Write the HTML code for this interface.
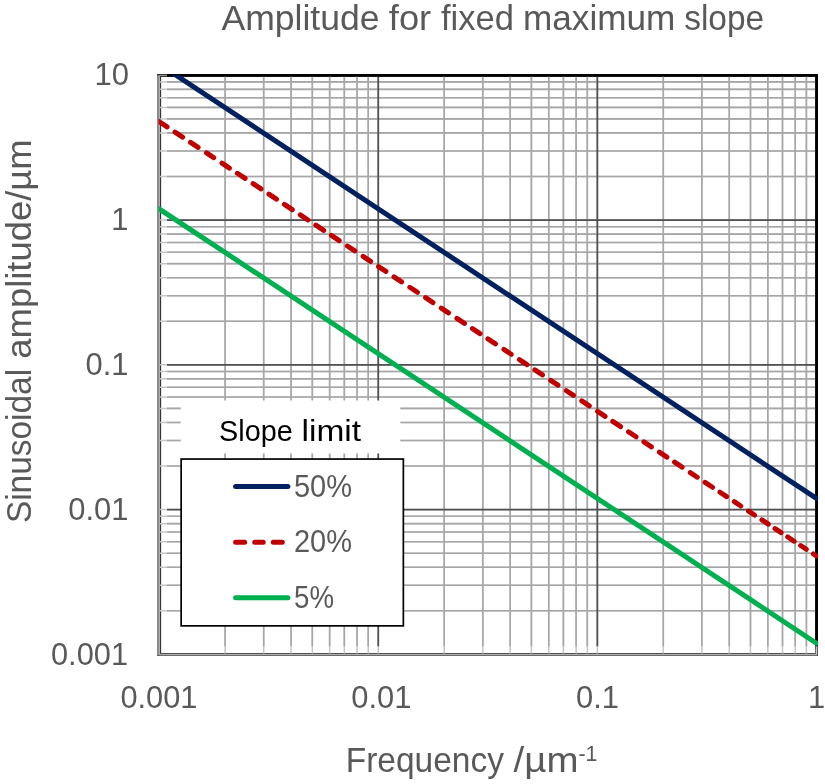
<!DOCTYPE html>
<html><head><meta charset="utf-8"><title>Amplitude for fixed maximum slope</title>
<style>
html,body{margin:0;padding:0;background:#fff;}
body{width:825px;height:784px;overflow:hidden;}
svg{display:block;font-family:'Liberation Sans', Arial, sans-serif;font-kerning:none;font-variant-ligatures:none;}
</style></head><body>
<svg width="825" height="784" viewBox="0 0 825 784">
<rect width="825" height="784" fill="#fff"/>
<g>
<rect x="157" y="74.1" width="4.1" height="581.8" fill="#c6c6c6"/>
<rect x="157" y="74.1" width="661" height="2.8" fill="#c6c6c6"/>
<rect x="815.1" y="74.1" width="2.9" height="581.8" fill="#c6c6c6"/>
<rect x="157" y="653" width="661" height="2.85" fill="#c6c6c6"/>
<rect x="157" y="74.1" width="2.1" height="581.7" fill="#8a8a8a"/>
<rect x="157" y="74.1" width="661" height="1.25" fill="#262626"/>
<rect x="817" y="74.1" width="1.0" height="581.7" fill="#444"/>
<rect x="157" y="654.8" width="661" height="1.05" fill="#5a5a5a"/>
<rect x="159.9" y="76.0" width="1.2" height="577.9" fill="#333"/>
<rect x="159.9" y="76.0" width="656.1" height="0.95" fill="#333"/>
<rect x="815.1" y="76.0" width="0.95" height="577.9" fill="#333"/>
<rect x="159.9" y="653.0" width="656.1" height="0.95" fill="#4a4a4a"/>
</g>
<path d="M225.12 76V653.5M263.7 76V653.5M291.08 76V653.5M312.31 76V653.5M329.66 76V653.5M344.32 76V653.5M357.03 76V653.5M368.23 76V653.5M444.21 76V653.5M482.79 76V653.5M510.17 76V653.5M531.4 76V653.5M548.75 76V653.5M563.41 76V653.5M576.12 76V653.5M587.32 76V653.5M663.3 76V653.5M701.88 76V653.5M729.26 76V653.5M750.49 76V653.5M767.84 76V653.5M782.5 76V653.5M795.21 76V653.5M806.41 76V653.5M378.26 76V653.5M597.35 76V653.5M816.44 76V653.5M160 610.8H816.5M160 585.31H816.5M160 567.22H816.5M160 553.19H816.5M160 541.73H816.5M160 532.04H816.5M160 523.64H816.5M160 516.23H816.5M160 466.03H816.5M160 440.54H816.5M160 422.45H816.5M160 408.42H816.5M160 396.96H816.5M160 387.27H816.5M160 378.87H816.5M160 371.46H816.5M160 321.26H816.5M160 295.77H816.5M160 277.68H816.5M160 263.65H816.5M160 252.19H816.5M160 242.5H816.5M160 234.1H816.5M160 226.69H816.5M160 176.49H816.5M160 151H816.5M160 132.91H816.5M160 118.88H816.5M160 107.42H816.5M160 97.73H816.5M160 89.33H816.5M160 81.92H816.5M160 509.61H816.5M160 364.84H816.5M160 220.07H816.5" stroke="#c6c6c6" stroke-width="1.5" fill="none"/>
<path d="M225.12 75V646.2M263.7 75V646.2M291.08 75V646.2M312.31 75V646.2M329.66 75V646.2M344.32 75V646.2M357.03 75V646.2M368.23 75V646.2M444.21 75V646.2M482.79 75V646.2M510.17 75V646.2M531.4 75V646.2M548.75 75V646.2M563.41 75V646.2M576.12 75V646.2M587.32 75V646.2M663.3 75V646.2M701.88 75V646.2M729.26 75V646.2M750.49 75V646.2M767.84 75V646.2M782.5 75V646.2M795.21 75V646.2M806.41 75V646.2M167 610.8H816.5M167 585.31H816.5M167 567.22H816.5M167 553.19H816.5M167 541.73H816.5M167 532.04H816.5M167 523.64H816.5M167 516.23H816.5M167 466.03H816.5M167 440.54H816.5M167 422.45H816.5M167 408.42H816.5M167 396.96H816.5M167 387.27H816.5M167 378.87H816.5M167 371.46H816.5M167 321.26H816.5M167 295.77H816.5M167 277.68H816.5M167 263.65H816.5M167 252.19H816.5M167 242.5H816.5M167 234.1H816.5M167 226.69H816.5M167 176.49H816.5M167 151H816.5M167 132.91H816.5M167 118.88H816.5M167 107.42H816.5M167 97.73H816.5M167 89.33H816.5M167 81.92H816.5" stroke="#a6a6a6" stroke-width="1.6" fill="none"/>
<path d="M378.26 75V646.2M597.35 75V646.2M816.44 75V646.2M167 509.61H816.5M167 364.84H816.5M167 220.07H816.5" stroke="#4f4f4f" stroke-width="1.75" fill="none"/>
<rect x="167" y="74" width="651" height="2.7" fill="#000"/>
<rect x="815.2" y="74" width="2.8" height="572.2" fill="#000"/>
<defs><clipPath id="pc"><rect x="158.7" y="75.3" width="659.4" height="578.5"/></clipPath></defs>
<g clip-path="url(#pc)" fill="none" stroke-width="5" stroke-linecap="round">
<path d="M159.17 208.91L816.44 643.22" stroke="#00b050"/>
<path d="M158.17 120.98L167.1 126.89M175 132.11L182.6 137.13M190.5 142.35L198.1 147.37M206.5 152.92L213.7 157.68M222 163.16L229.4 168.05M237.3 173.27L245.1 178.43M253.1 183.71L261 188.93M268.9 194.15L276.5 199.17M284.4 204.39L292.3 209.61M300.3 214.9L308 219.99M315.9 225.21L323.7 230.36M331.4 235.45L339.2 240.61M347.4 246.02L354.8 250.91M363.1 256.4L370.6 261.35M378.5 266.57L385.9 271.46M394 276.82L401.6 281.84M409.8 287.26L417.4 292.28M425.6 297.7L433 302.59M441.25 308.04L448.5 312.83M456.9 318.38L464.5 323.4M472.4 328.62L480 333.64M487.9 338.86L495.5 343.89M503.9 349.44L511.2 354.26M519.4 359.68L527 364.7M534.9 369.92L542.5 374.94M550.7 380.36L558 385.18M566.4 390.73L573.55 395.46M581.8 400.91L589.3 405.87M597.6 411.35L605.1 416.31M612.75 421.36L620.6 426.55M628.55 431.8L636.05 436.76M643.9 441.94L651.4 446.9M659.4 452.19L666.9 457.14M674.55 462.2L682.1 467.19M690.25 472.57L697.3 477.23M705.05 482.35L712.5 487.27M720 492.23L726.6 496.59M734.3 501.68L740.8 505.97M748.5 511.06L754.5 515.03M761.95 519.95L768.35 524.18M775 528.57L781.1 532.6M787.75 537L794.15 541.23M800.65 545.52L806.3 549.26M813.45 553.98L816.44 555.96" stroke="#c00000"/>
<path d="M159.17 64.09L816.44 498.4" stroke="#002060"/>
</g>
<rect x="180.8" y="400.5" width="219.5" height="53" fill="#fff"/>
<rect x="181.15" y="459.05" width="222.2" height="166.8" fill="#fff" stroke="#000" stroke-width="1.7"/>
<g stroke-width="5" stroke-linecap="round" fill="none">
<path d="M235.6 486.45H287.9" stroke="#002060"/>
<path d="M235.6 542.3H244.6M254.7 542.3H263.2M273.3 542.3H282.3" stroke="#c00000"/>
<path d="M235.6 597.8H287.9" stroke="#00b050"/>
</g>
<text x="221.43" y="30.2" font-size="34.3" fill="#595959" text-anchor="start" textLength="158.05" lengthAdjust="spacingAndGlyphs">Amplitude</text>
<text x="388.89" y="30.2" font-size="34.3" fill="#595959" text-anchor="start" textLength="42.32" lengthAdjust="spacingAndGlyphs">for</text>
<text x="441.01" y="30.2" font-size="34.3" fill="#595959" text-anchor="start" textLength="73.02" lengthAdjust="spacingAndGlyphs">fixed</text>
<text x="523.07" y="30.2" font-size="34.3" fill="#595959" text-anchor="start" textLength="152.25" lengthAdjust="spacingAndGlyphs">maximum</text>
<text x="684.17" y="30.2" font-size="34.3" fill="#595959" text-anchor="start" textLength="80.02" lengthAdjust="spacingAndGlyphs">slope</text>
<text x="94.6" y="85" font-size="30.8" fill="#595959" text-anchor="start" textLength="34.5" lengthAdjust="spacingAndGlyphs">10</text>
<text x="111.3" y="229.6" font-size="30.8" fill="#595959" text-anchor="start" textLength="17.2" lengthAdjust="spacingAndGlyphs">1</text>
<text x="85.5" y="374.6" font-size="30.8" fill="#595959" text-anchor="start" textLength="43" lengthAdjust="spacingAndGlyphs">0.1</text>
<text x="68.3" y="519.6" font-size="30.8" fill="#595959" text-anchor="start" textLength="60.2" lengthAdjust="spacingAndGlyphs">0.01</text>
<text x="51" y="664.5" font-size="30.8" fill="#595959" text-anchor="start" textLength="77" lengthAdjust="spacingAndGlyphs">0.001</text>
<text x="120.4" y="707.7" font-size="30.8" fill="#595959" text-anchor="start" textLength="77" lengthAdjust="spacingAndGlyphs">0.001</text>
<text x="351.2" y="707.7" font-size="30.8" fill="#595959" text-anchor="start" textLength="60.2" lengthAdjust="spacingAndGlyphs">0.01</text>
<text x="576" y="707.7" font-size="30.8" fill="#595959" text-anchor="start" textLength="43" lengthAdjust="spacingAndGlyphs">0.1</text>
<text x="808" y="707.7" font-size="30.8" fill="#595959" text-anchor="start" textLength="17.2" lengthAdjust="spacingAndGlyphs">1</text>
<text x="345.75" y="771.9" font-size="34.3" fill="#595959" text-anchor="start" textLength="158.21" lengthAdjust="spacingAndGlyphs">Frequency</text>
<text x="513.6" y="771.9" font-size="34.3" fill="#595959" text-anchor="start" textLength="64.83" lengthAdjust="spacingAndGlyphs">/µm</text>
<text x="578.5" y="761.2" font-size="22" fill="#595959" textLength="19" lengthAdjust="spacingAndGlyphs">-1</text>
<text transform="translate(31.4 521.9) rotate(-90)" x="-1.22" y="0" font-size="34.3" fill="#595959" textLength="154.25" lengthAdjust="spacingAndGlyphs">Sinusoidal</text>
<text transform="translate(31.4 357.4) rotate(-90)" x="-1.25" y="0" font-size="34.3" fill="#595959" textLength="219.35" lengthAdjust="spacingAndGlyphs">amplitude/µm</text>
<text x="219.09" y="440.6" font-size="30.3" fill="#000" text-anchor="start" textLength="73.69" lengthAdjust="spacingAndGlyphs">Slope</text>
<text x="301.54" y="440.6" font-size="30.3" fill="#000" text-anchor="start" textLength="59.5" lengthAdjust="spacingAndGlyphs">limit</text>
<text x="294" y="496.8" font-size="30.8" fill="#595959" text-anchor="start" textLength="58" lengthAdjust="spacingAndGlyphs">50%</text>
<text x="294" y="552.2" font-size="30.8" fill="#595959" text-anchor="start" textLength="58" lengthAdjust="spacingAndGlyphs">20%</text>
<text x="294" y="607.7" font-size="30.8" fill="#595959" text-anchor="start" textLength="40" lengthAdjust="spacingAndGlyphs">5%</text>
</svg>
</body></html>
